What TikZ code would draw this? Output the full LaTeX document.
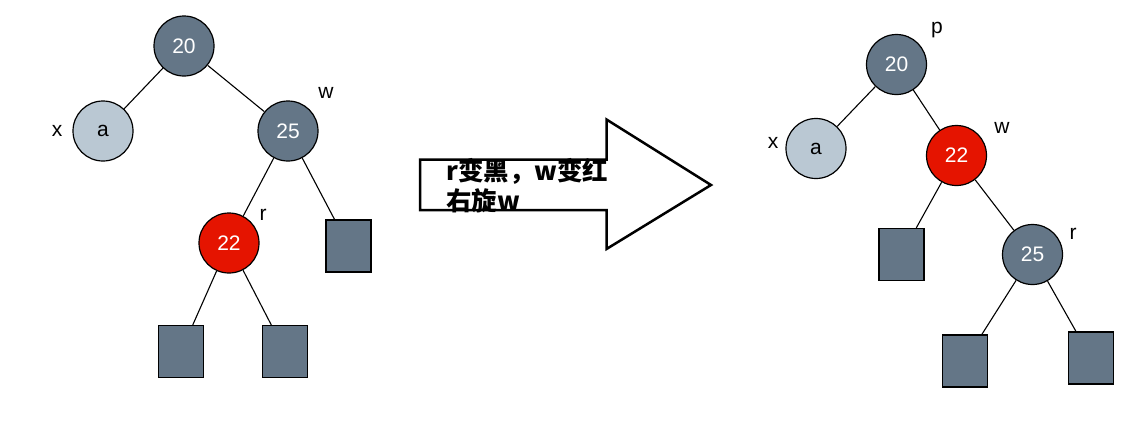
\documentclass[tikz,border=0pt]{standalone}
\usepackage{fontspec}
\setmainfont{Liberation Sans}
\newfontfamily\cjk{Noto Sans CJK SC}
\usepackage{tikz}
\usetikzlibrary{positioning}

\definecolor{nodegray}{HTML}{647687}
\definecolor{nodelight}{HTML}{BAC8D3}
\definecolor{nodered}{HTML}{E51400}

\begin{document}
\begin{tikzpicture}[x=1pt,y=-1pt,
		every node/.style={font=\fontsize{21}{23}\selectfont},
		blk/.style={circle,draw=black,line width=1.2pt,fill=nodegray,text=white,minimum size=60pt,inner sep=0pt},
		red/.style={blk,fill=nodered},
		lite/.style={blk,fill=nodelight,text=black},
		leaf/.style={rectangle,draw=black,line width=1.2pt,fill=nodegray,minimum width=45pt,minimum height=52pt,inner sep=0pt},
		tag/.style={inner sep=0pt},
		edge/.style={line width=1.1pt}]
			\useasboundingbox (0,0) rectangle (1143,429);
			% left tree
			\node[blk] (l20) at (184,46) {20};
			\node[lite] (la) at (103,131) {a};
			\node[blk] (l25) at (288,131) {25};
			\node[red] (l22) at (229,243) {22};
			\node[leaf] (lq1) at (348.5,246) {};
			\node[leaf] (lq2) at (181,351.5) {};
			\node[leaf] (lq3) at (285,351.5) {};
			\node[tag] (lx) at (57,131) {x};
			\node[tag] (lw) at (326,93) {w};
			\node[tag] (lr) at (263,215) {r};
			\foreach \a/\b in {l20/la,l20/l25,l25/l22,l25/lq1,l22/lq2,l22/lq3}
				\draw[edge] (\a) -- (\b);
			% arrow
			\draw[line width=2.5pt,line join=miter] (420,159.5) -- (606.5,159.5) -- (606.5,119.5) -- (711,185)
				-- (606.5,249) -- (606.5,210) -- (420,210) -- cycle;
			\node[anchor=north west,inner sep=0pt,align=left,font=\cjk\bfseries\fontsize{25.5}{30}\selectfont] (txt) at (446,158) {r变黑，w变红\\右旋w};
			% right tree
			\node[blk] (r20) at (896.5,64.5) {20};
			\node[lite] (ra) at (816,148.5) {a};
			\node[red] (r22) at (956.5,155.5) {22};
			\node[blk] (r25) at (1032.5,254.5) {25};
			\node[leaf] (rq1) at (901.5,254.5) {};
			\node[leaf] (rq2) at (965,361) {};
			\node[leaf] (rq3) at (1091,358) {};
			\node[tag] (rp) at (937,30) {p};
			\node[tag] (rx) at (773,143) {x};
			\node[tag] (rw) at (1002,128) {w};
			\node[tag] (rr) at (1073,234) {r};
			\foreach \a/\b in {r20/ra,r20/r22,r22/rq1,r22/r25,r25/rq2,r25/rq3}
				\draw[edge] (\a) -- (\b);
		\end{tikzpicture}
\end{document}
